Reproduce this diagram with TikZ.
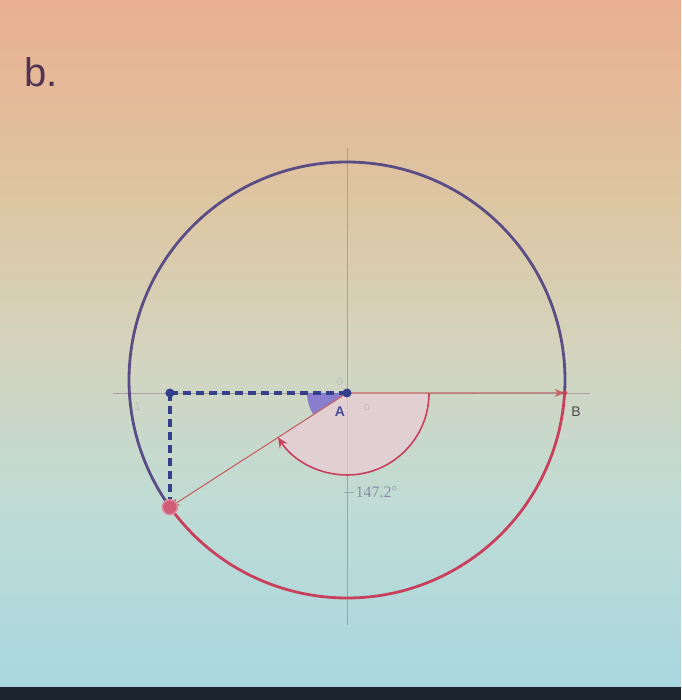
\documentclass[tikz,border=0pt]{standalone}
\usepackage{fontspec}
\setmainfont{Liberation Serif}
\newfontfamily\lsans{Liberation Sans}
\usetikzlibrary{arrows.meta,calc}
\definecolor{bgA}{HTML}{EAB092}
\definecolor{bgB}{HTML}{DDC6A2}
\definecolor{bgC}{HTML}{D4D4BE}
\definecolor{bgD}{HTML}{C0DCD4}
\definecolor{bgE}{HTML}{A9D7E0}
\definecolor{strip}{HTML}{1C2430}
\definecolor{upper}{HTML}{5A4C84}
\definecolor{lower}{HTML}{C8405C}
\definecolor{vecred}{HTML}{C46464}
\definecolor{dashblue}{HTML}{34418A}
\definecolor{axisgray}{HTML}{A8A0A4}
\definecolor{sectpink}{HTML}{EACDD6}
\definecolor{sectpurple}{HTML}{7E6ED0}
\definecolor{anglegray}{HTML}{8C8CA6}
\tikzset{
  circarc/.style={line width=2.8pt},
  vec/.style={vecred, line width=1.1pt, -{Stealth[length=10pt,width=8pt]}},
  proj/.style={dashblue, line width=3.4pt, dash pattern=on 8pt off 5pt},
  axisline/.style={axisgray, line width=0.8pt},
  dot/.style={circle, fill=dashblue, inner sep=0pt, minimum size=9pt},
  lbl/.style={font=\lsans\fontsize{14}{14}\selectfont},
  faint/.style={font=\lsans\fontsize{11}{11}\selectfont, text=axisgray!70}
}
\begin{document}
\begin{tikzpicture}[x=1pt,y=1pt]
\useasboundingbox (0,0) rectangle (681,700);
% background
\shade[top color=bgA, bottom color=bgB] (0,700) rectangle (681,500);
\shade[top color=bgB, bottom color=bgC] (0,500.5) rectangle (681,350);
\shade[top color=bgC, bottom color=bgD] (0,350.5) rectangle (681,200);
\shade[top color=bgD, bottom color=bgE] (0,200.5) rectangle (681,13);
\fill[strip] (0,0) rectangle (681,13);
% label b.
\node[anchor=base west, text=black!70!violet!80, font=\lsans\fontsize{40}{40}\selectfont, inner sep=0pt] (blabel) at (24,613) {b.};
% geometry
\coordinate (O) at (347,320);
\coordinate (A) at (347,307);
\coordinate (B) at ($(O)+(-3.4:218)$);
\coordinate (P) at ($(A)+(-147.2:210.7)$);
\coordinate (Q) at (A -| P);
\coordinate (axL) at (113,307);
\coordinate (axR) at (590,307);
\coordinate (axT) at (347,552);
\coordinate (axB) at (347,75);
% axes
\draw[axisline] (axL) -- (axR);
\draw[axisline] (axT) -- (axB);
% angle sectors
\fill[sectpink, opacity=0.75] (A) -- ++(0:82) arc[start angle=0, end angle=-147.2, radius=82] -- cycle;
\draw[lower, line width=1.6pt, -{Stealth[length=10pt,width=9pt]}] ($(A)+(0:82)$) arc[start angle=0, end angle=-147.2, radius=82];
\fill[sectpurple, opacity=0.85] (A) -- ++(180:40) arc[start angle=180, end angle=212.8, radius=40] -- cycle;
% circle
\draw[circarc, upper] ($(O)+(-3.4:218)$) arc[start angle=-3.4, end angle=215.67, radius=218];
\draw[circarc, lower] ($(O)+(215.67:218)$) arc[start angle=215.67, end angle=356.6, radius=218];
% projections
\draw[proj] (A) -- (Q);
\draw[proj] (Q) -- (P);
% vectors
\draw[vec] (A) -- (B);
\draw[vec] (A) -- (P);
% points
\node[dot] (Adot) at (A) {};
\node[dot] (Qdot) at (Q) {};
\node[circle, fill=lower, inner sep=0pt, minimum size=5pt] (Bdot) at (B) {};
\node[circle, fill=lower!85!white, draw=lower!60!white, line width=1.5pt, inner sep=0pt, minimum size=15pt] (Pdot) at (P) {};
% labels
\node[lbl, font=\lsans\bfseries\fontsize{14}{14}\selectfont, text=black!55!blue!70] (Alabel) at (340,288) {A};
\node[lbl, text=black!70] (Blabel) at (576,288) {B};
\node[text=anglegray, font=\fontsize{16}{16}\selectfont] (anglelabel) at (370,207) {$-$147.2$^\circ$};
\node[faint] (zero1) at (367,292) {o};
\node[faint] (zero2) at (340,318) {0};
\node[faint] (one) at (138,293) {1};
\end{tikzpicture}
\end{document}
